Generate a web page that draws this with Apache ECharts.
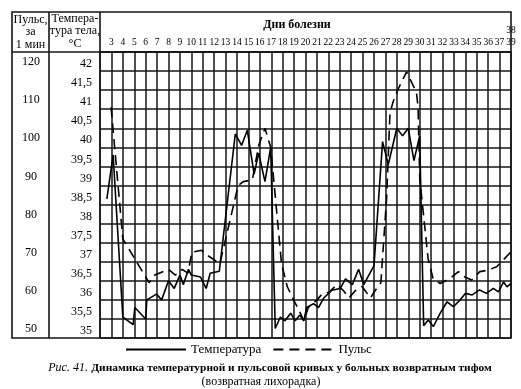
<!DOCTYPE html>
<html><head><meta charset="utf-8">
<script src="https://cdn.jsdelivr.net/npm/echarts@6/dist/echarts.min.js"></script>
<style>html,body{margin:0;padding:0;background:#fff}#c{width:521px;height:389px}</style>
</head><body><div id="c"></div>
<script>
// Days of illness (x), temperature in °C (solid line)
const tempDays = [2.6, 3.15, 4.0, 4.9, 5.05, 6.0, 6.1, 6.95, 7.4, 8.0, 8.5, 9.0, 9.3, 9.75, 10.0, 10.8, 11.3, 11.65, 12.45, 13.85, 14.4, 14.9, 15.5, 15.9, 16.45, 16.95, 17.35, 17.8, 18.2, 18.7, 19.1, 19.5, 19.85, 20.1, 20.7, 21.15, 21.6, 22.3, 23.05, 23.5, 24.1, 24.65, 25.1, 26.0, 26.75, 27.25, 28.0, 28.5, 29.0, 29.5, 30.0, 30.35, 30.75, 31.2, 31.8, 32.4, 32.95, 33.55, 34.0, 34.6, 35.25, 35.85, 36.45, 36.9, 37.35, 37.65, 38.0];
const tempValues = [38.65, 39.8, 35.55, 35.35, 35.8, 35.5, 36.0, 36.15, 36.0, 36.5, 36.3, 36.65, 36.4, 36.8, 36.65, 36.6, 36.3, 36.7, 36.75, 40.35, 40.05, 40.45, 39.3, 39.85, 39.1, 40.0, 35.25, 35.55, 35.45, 35.65, 35.45, 35.6, 35.45, 35.8, 35.9, 35.8, 36.05, 36.25, 36.3, 36.55, 36.4, 36.8, 36.4, 36.9, 40.15, 39.55, 40.5, 40.3, 40.5, 39.65, 40.3, 35.32, 35.47, 35.3, 35.65, 35.95, 35.82, 36.0, 36.17, 36.13, 36.26, 36.17, 36.3, 36.21, 36.47, 36.34, 36.43];
// Pulse, beats per minute (dashed line)
const pulseDays = [2.97, 4.0, 5.1, 6.3, 6.8, 8.0, 8.6, 9.2, 9.7, 10.05, 10.9, 11.5, 12.25, 12.5, 14.1, 14.55, 15.35, 15.9, 16.45, 16.95, 17.9, 18.4, 18.95, 19.4, 19.85, 20.25, 21.0, 21.45, 22.05, 22.75, 23.3, 23.8, 24.4, 24.95, 25.7, 26.0, 26.6, 27.1, 27.4, 27.68, 28.12, 28.85, 29.72, 29.86, 30.01, 30.74, 31.18, 31.8, 32.65, 33.4, 33.96, 34.55, 35.27, 36.0, 36.74, 37.3, 38.0];
const pulseValues = [110.5, 76, 70.5, 64.5, 66.5, 68, 66.5, 68, 67, 72.5, 73, 71.5, 70, 69.5, 90, 91, 91.5, 100.5, 105, 100, 69.5, 63.5, 60, 57.5, 54.5, 58, 60, 61.5, 62, 64, 62.5, 60.5, 62.5, 63.5, 60.5, 62, 64.5, 86.5, 109, 112, 115.3, 119.8, 114.4, 110.5, 91.7, 70.8, 65.5, 64.3, 65.6, 67.4, 66, 65.2, 67.4, 67.8, 68.7, 70.4, 72.6];
// Axis tick ranges
const dayRange = [2, 38];
const tempRange = [35, 42.5];
const pulseRange = [50, 125];
const lastDayLabel = '38\n39';

const zip = (xs, ys) => xs.map((x, i) => [x, ys[i]]);
const serif = '"Liberation Serif", "DejaVu Serif", serif';
const ink = '#161616';

const chart = echarts.init(document.getElementById('c'), null, {renderer: 'canvas'});
chart.setOption({
  animation: false,
  backgroundColor: '#fff',
  grid: {left: 100, right: 10, top: 52, bottom: 51, containLabel: false},
  xAxis: {
    type: 'value', position: 'top', min: dayRange[0], max: dayRange[1], interval: 1,
    axisLine: {show: true, lineStyle: {color: ink, width: 1.5}},
    axisTick: {show: false},
    axisLabel: {
      show: true, margin: 3, fontFamily: serif, fontSize: 9.5, color: '#000', lineHeight: 12.5,
      formatter: v => v < 3 ? '' : (v === 38 ? lastDayLabel : String(v))
    },
    splitLine: {show: true, lineStyle: {color: ink, width: 1.5}}
  },
  yAxis: [
    {
      type: 'value', min: tempRange[0], max: tempRange[1], interval: 0.5, position: 'left',
      axisLine: {show: false}, axisTick: {show: false},
      axisLabel: {
        margin: 8, fontFamily: serif, fontSize: 12, color: '#000', verticalAlign: 'bottom', padding: [0, 0, 1, 0],
        formatter: v => v > 42 ? '' : String(v).replace('.', ',')
      },
      splitLine: {show: true, lineStyle: {color: ink, width: 1.5}}
    },
    {
      type: 'value', min: pulseRange[0], max: pulseRange[1], interval: 10, position: 'left', offset: 69,
      axisLine: {show: false}, axisTick: {show: false},
      axisLabel: {
        margin: 0, align: 'center', fontFamily: serif, fontSize: 12, color: '#000', verticalAlign: 'bottom', padding: [0, 0, 3, 0],
        formatter: v => v > 120 ? '' : String(v)
      },
      splitLine: {show: false}
    }
  ],
  legend: {
    left: 125, top: 343, padding: 0, itemWidth: 60, itemHeight: 10, itemGap: 11,
    itemStyle: {opacity: 0},
    textStyle: {fontFamily: serif, fontSize: 13, color: '#000'},
    data: ['Температура', 'Пульс']
  },
  series: [
    {
      name: 'Температура', type: 'line', yAxisIndex: 0, symbol: 'none',
      data: zip(tempDays, tempValues),
      lineStyle: {color: '#000', width: 1.6, type: 'solid'},
      itemStyle: {color: '#000'}
    },
    {
      name: 'Пульс', type: 'line', yAxisIndex: 1, symbol: 'none',
      data: zip(pulseDays, pulseValues),
      lineStyle: {color: '#000', width: 1.6, type: [10, 6]},
      itemStyle: {color: '#000'}
    }
  ],
  graphic: [
    {type: 'rect', shape: {x: 12, y: 12, width: 499, height: 326}, style: {fill: 'none', stroke: ink, lineWidth: 1.6}, silent: true},
    {type: 'line', shape: {x1: 49, y1: 12, x2: 49, y2: 338}, style: {stroke: ink, lineWidth: 1.6}, silent: true},
    {type: 'line', shape: {x1: 100, y1: 12, x2: 100, y2: 338}, style: {stroke: ink, lineWidth: 1.6}, silent: true},
    {type: 'line', shape: {x1: 12, y1: 52, x2: 511, y2: 52}, style: {stroke: ink, lineWidth: 1.6}, silent: true},
    {type: 'text', x: 30.5, y: 32, style: {text: 'Пульс,\nза\n1 мин', align: 'center', verticalAlign: 'middle', font: '12px ' + serif, lineHeight: 12.5, fill: '#000'}, silent: true},
    {type: 'text', x: 75, y: 31, style: {text: 'Темпера-\nтура тела,\n°С', align: 'center', verticalAlign: 'middle', font: '12px ' + serif, lineHeight: 12.5, fill: '#000'}, silent: true},
    {type: 'text', x: 297, y: 25, style: {text: 'Дни болезни', align: 'center', verticalAlign: 'middle', font: 'bold 12px ' + serif, fill: '#000'}, silent: true},
    {type: 'text', x: 270, y: 368, style: {
      text: '{i|Рис. 41.} {b|Динамика температурной и пульсовой кривых у больных возвратным тифом}',
      align: 'center', verticalAlign: 'middle',
      rich: {
        i: {fontFamily: serif, fontStyle: 'italic', fontSize: 12, fill: '#000'},
        b: {fontFamily: serif, fontWeight: 'bold', fontSize: 11.4, fill: '#000'}
      }
    }, silent: true},
    {type: 'text', x: 261, y: 382, style: {text: '(возвратная лихорадка)', align: 'center', verticalAlign: 'middle', font: '12px ' + serif, fill: '#000'}, silent: true}
  ]
});
</script>
</body></html>
